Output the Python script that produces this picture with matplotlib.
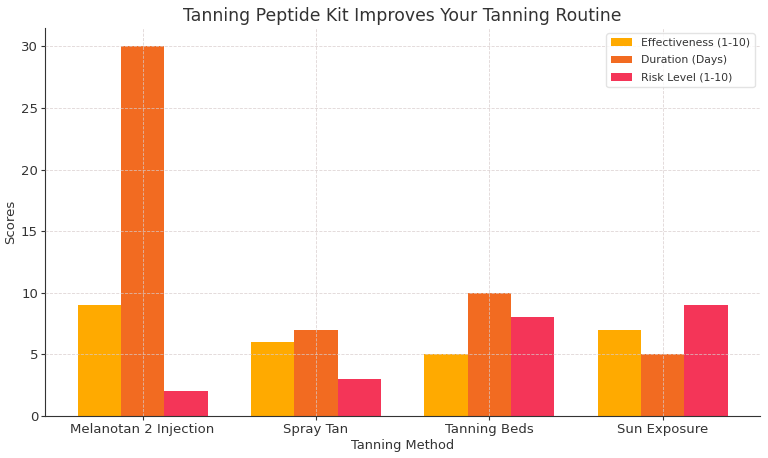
import numpy as np
import matplotlib
matplotlib.use("Agg")
import matplotlib.pyplot as plt

# data
methods = ["Melanotan 2 Injection", "Spray Tan", "Tanning Beds", "Sun Exposure"]
effectiveness = [9, 6, 5, 7]
duration = [30, 7, 10, 5]
risk = [2, 3, 8, 9]

plt.rcParams['font.family'] = ['DejaVu Sans']
plt.rcParams['text.color'] = '#333333'
plt.rcParams['axes.labelcolor'] = '#333333'
plt.rcParams['xtick.color'] = '#333333'
plt.rcParams['ytick.color'] = '#333333'

fig = plt.figure(figsize=(7.68, 4.58), dpi=100)
ax = fig.add_axes([45/768, 1 - 416/458, (760-45)/768, (416-28)/458])

x = np.arange(len(methods))
w = 0.25
ax.bar(x - w, effectiveness, w, color='#FFAA00', label='Effectiveness (1-10)')
ax.bar(x, duration, w, color='#F26B21', label='Duration (Days)')
ax.bar(x + w, risk, w, color='#F43558', label='Risk Level (1-10)')

ax.set_xticks(x)
ax.set_xticklabels(methods, fontsize=9.3)
ax.tick_params(axis='both', labelsize=9.5, length=3, pad=2)
ax.set_xlim(-0.5625, 3.5625)
ax.set_ylim(0, 31.5)
ax.set_xlabel('Tanning Method', fontsize=9.3, labelpad=2)
ax.set_ylabel('Scores', fontsize=9.5, labelpad=3)
ax.set_title('Tanning Peptide Kit Improves Your Tanning Routine', fontsize=12.4, pad=5)

ax.grid(True, linestyle='--', linewidth=0.6, color='#d8cccc', alpha=0.8)
ax.set_axisbelow(False)
ax.spines['top'].set_visible(False)
ax.spines['right'].set_visible(False)
ax.spines['left'].set_color('#333333')
ax.spines['bottom'].set_color('#333333')

ax.legend(loc='upper right', fontsize=7.8, frameon=True, edgecolor='#dddddd',
          borderaxespad=0.5, labelspacing=0.7)

fig.savefig('out.png', dpi=100)
